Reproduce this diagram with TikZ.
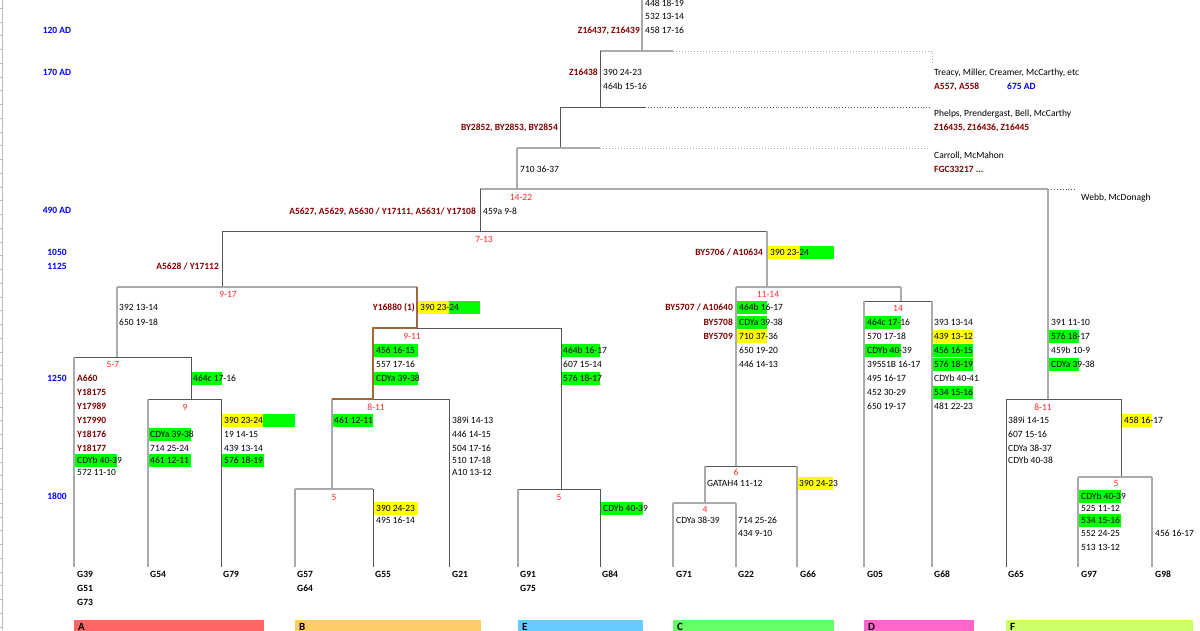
\documentclass[tikz,border=0pt]{standalone}
\usepackage{fontspec}
\setmainfont{Carlito}
\definecolor{dred}{RGB}{128,0,0}
\definecolor{lred}{RGB}{255,40,40}
\definecolor{blu}{RGB}{0,0,255}
\definecolor{hg}{RGB}{0,255,0}
\definecolor{hy}{RGB}{255,255,0}
\definecolor{lg}{RGB}{170,170,170}
\definecolor{ld}{RGB}{85,85,85}
\definecolor{brn}{RGB}{160,105,55}
\definecolor{barA}{RGB}{255,102,102}
\definecolor{barB}{RGB}{255,204,102}
\definecolor{barE}{RGB}{102,204,255}
\definecolor{barC}{RGB}{102,255,102}
\definecolor{barD}{RGB}{255,102,204}
\definecolor{barF}{RGB}{204,255,102}
\newcommand\fs{\fontsize{9.5}{11}\selectfont}
\newcounter{nn}
\newcommand\Nd[4]{\stepcounter{nn}\node[#1] (n\arabic{nn}) at (#2,#3) {#4};}
\newcommand\Hl[4]{\fill[#1] (#2,#4-6.5) rectangle (#3,#4+6.5);}
\begin{document}
\begin{tikzpicture}[x=1pt,y=-1pt,
  txt/.style={anchor=west,inner sep=0pt,text height=6pt,text depth=0pt,font=\fs},
  rtx/.style={anchor=east,inner sep=0pt,text height=6pt,text depth=0pt,font=\fs\bfseries,text=dred},
  rbt/.style={anchor=west,inner sep=0pt,text height=6pt,text depth=0pt,font=\fs\bfseries,text=dred},
  rlab/.style={anchor=center,inner sep=0pt,text height=6pt,text depth=0pt,font=\fs,text=lred},
  btx/.style={anchor=center,inner sep=0pt,text height=6pt,text depth=0pt,font=\fs\bfseries,text=blu},
  bwx/.style={anchor=west,inner sep=0pt,text height=6pt,text depth=0pt,font=\fs\bfseries,text=blu},
  leaf/.style={anchor=west,inner sep=0pt,text height=6pt,text depth=0pt,font=\fs\bfseries},
  barlet/.style={anchor=north west,inner sep=0pt,font=\fontsize{11}{12}\selectfont\bfseries},
  ln/.style={draw=lg,line width=1.1pt},
  lnd/.style={draw=ld,line width=0.9pt},
  lnb/.style={draw=brn,line width=1.2pt},
  dotg/.style={draw=lg,line width=1pt,dotted},
  dotd/.style={draw=ld,line width=0.9pt,dotted}]
\useasboundingbox (0,0) rectangle (1200,630);
\clip (0,0) rectangle (1200,630);
% left sheet edge
\coordinate (e1) at (2,0); \coordinate (e2) at (2,630);
\draw[draw=lg!80,line width=1pt] (e1) -- (e2);
\foreach \k in {0,...,45} \draw[draw=lg!80,line width=0.5pt] (0,8+13.75*\k) -- (3,8+13.75*\k);
% ---------- bar coordinates ----------
\coordinate (t0) at (642,0);
\coordinate (b1L) at (600,51);  \coordinate (b1R) at (673,51);
\coordinate (d1a) at (932,51);  \coordinate (d1b) at (932,65);
\coordinate (b2L) at (560,107); \coordinate (b2R) at (645,107); \coordinate (d2a) at (932,107);
\coordinate (b3L) at (517,148); \coordinate (b3R) at (600,148); \coordinate (d3a) at (930,148);
\coordinate (b4L) at (480,189); \coordinate (b4R) at (1048,189);
\coordinate (d4a) at (1051,189); \coordinate (d4b) at (1077,189);
\coordinate (b5L) at (222,231); \coordinate (b5R) at (767,231);
\coordinate (b6L) at (117,287); \coordinate (b6R) at (417,287);
\coordinate (b7L) at (74,357);  \coordinate (b7R) at (191,357);
\coordinate (b8L) at (148,399); \coordinate (b8R) at (221,399);
\coordinate (b9L) at (373,328); \coordinate (b9M) at (417,328); \coordinate (b9R) at (561,328);
\coordinate (b10L) at (332,399); \coordinate (b10M) at (373,399); \coordinate (b10R) at (449,399);
\coordinate (b11L) at (295,489); \coordinate (b11R) at (373,489);
\coordinate (b12L) at (518,489); \coordinate (b12R) at (600,489);
\coordinate (b13L) at (736,287); \coordinate (b13R) at (901,287);
\coordinate (b14L) at (705,466); \coordinate (b14R) at (797,466);
\coordinate (b15L) at (673,503); \coordinate (b15R) at (736,503);
\coordinate (b16L) at (864,301); \coordinate (b16R) at (932,301);
\coordinate (b17L) at (1006,399); \coordinate (b17R) at (1121,399);
\coordinate (b18L) at (1078,477); \coordinate (b18R) at (1152,477);
\coordinate (bot) at (0,567);
% ---------- highlights ----------
\Hl{hg}{75}{117}{460}
\Hl{hg}{191}{222}{378}
\Hl{hg}{148}{191}{434}
\Hl{hg}{148}{191}{460}
\Hl{hy}{222}{263}{420}\Hl{hg}{263}{295}{420}
\Hl{hg}{222}{264}{460}
\Hl{hy}{418}{449}{307}\Hl{hg}{449}{480}{307}
\Hl{hg}{374}{418}{350}
\Hl{hg}{374}{418}{378}
\Hl{hg}{332}{373}{420}
\Hl{hy}{374}{418}{508}
\Hl{hg}{561}{600}{350}
\Hl{hg}{561}{600}{378}
\Hl{hg}{601}{643}{508}
\Hl{hy}{768}{800}{252}\Hl{hg}{800}{834}{252}
\Hl{hg}{737}{767}{307}
\Hl{hg}{737}{767}{322}
\Hl{hy}{737}{767}{336}
\Hl{hy}{798}{833}{483}
\Hl{hg}{865}{901}{322}
\Hl{hg}{865}{901}{350}
\Hl{hy}{933}{973}{336}
\Hl{hg}{933}{973}{350}
\Hl{hg}{933}{973}{364}
\Hl{hg}{933}{973}{392}
\Hl{hg}{1048}{1079}{336}
\Hl{hg}{1048}{1079}{364}
\Hl{hy}{1122}{1152}{420}
\Hl{hg}{1079}{1121}{496}
\Hl{hg}{1079}{1121}{520}
% ---------- tree lines ----------
\draw[ln] (t0) -- (t0 |- b1L);
\draw[ln] (b1L) -- (b1R);
\draw[dotg] (b1R) -- (d1a) -- (d1b);
\draw[lnd] (b1L) -- (b1L |- b2L);
\draw[lnd] (b2L) -- (b2R);
\draw[dotd] (b2R) -- (d2a);
\draw[lnd] (b2L) -- (b2L |- b3L);
\draw[ln] (b3L) -- (b3R);
\draw[dotg] (b3R) -- (d3a);
\draw[ln] (b3L) -- (b3L |- b4L);
\draw[ln] (b4L) -- (b4R);
\draw[dotd] (d4a) -- (d4b);
\draw[lnd] (b4L) -- (b4L |- b5L);
\draw[lnd] (b5L) -- (b5R);
\draw[lnd] (b5L) -- (b5L |- b6L);
\draw[ln] (b6L) -- (b6R);
\draw[ln] (b6L) -- (b6L |- b7L);
\draw[lnd] (b7L) -- (b7R);
\draw[ln] (b7L) -- (b7L |- bot);
\draw[lnd] (b7R) -- (b7R |- b8L);
\draw[lnd] (b8L) -- (b8R);
\draw[ln] (b8L) -- (b8L |- bot);
\draw[lnd] (b8R) -- (b8R |- bot);
% B
\draw[lnd] (b9M) -- (b9R);
\draw[lnd] (b10M) -- (b10R);
\draw[ln] (b10L) -- (b10L |- b11L);
\draw[ln] (b11L) -- (b11R);
\draw[ln] (b11L) -- (b11L |- bot);
\draw[lnd] (b11R) -- (b11R |- bot);
\draw[lnd] (b10R) -- (b10R |- bot);
\draw[lnb] (b6R) -- (b9M);
\draw[lnb] (b9M) -- (b9L) -- (b10M) -- (b10L);
% E
\draw[lnd] (b9R) -- (b9R |- b12L);
\draw[lnd] (b12L) -- (b12R);
\draw[ln] (b12L) -- (b12L |- bot);
\draw[lnd] (b12R) -- (b12R |- bot);
% C
\draw[ln] (b5R) -- (b5R |- b13L);
\draw[ln] (b13L) -- (b13R);
\draw[ln] (b13L) -- (b13L |- b14L);
\draw[lnd] (b14L) -- (b14R);
\draw[ln] (b14L) -- (b14L |- b15L);
\draw[ln] (b15L) -- (b15R);
\draw[ln] (b15L) -- (b15L |- bot);
\draw[ln] (b15R) -- (b15R |- bot);
\draw[ln] (b14R) -- (b14R |- bot);
% D
\draw[ln] (b13R) -- (b13R |- b16L);
\draw[lnd] (b16L) -- (b16R);
\draw[ln] (b16L) -- (b16L |- bot);
\draw[ln] (b16R) -- (b16R |- bot);
% F
\draw[ln] (b4R) -- (b4R |- b17L);
\draw[lnd] (b17L) -- (b17R);
\draw[lnd] (b17L) -- (b17L |- bot);
\draw[lnd] (b17R) -- (b17R |- b18L);
\draw[ln] (b18L) -- (b18R);
\draw[ln] (b18L) -- (b18L |- bot);
\draw[ln] (b18R) -- (b18R |- bot);
% ---------- dates ----------
\Nd{btx}{57}{30}{120 AD}
\Nd{btx}{57}{72}{170 AD}
\Nd{btx}{57}{210}{490 AD}
\Nd{btx}{57}{252}{1050}
\Nd{btx}{57}{266}{1125}
\Nd{btx}{57}{378}{1250}
\Nd{btx}{57}{496}{1800}
% ---------- top ----------
\Nd{txt}{645}{3}{448 18-19}
\Nd{txt}{645}{16}{532 13-14}
\Nd{txt}{645}{30}{458 17-16}
\Nd{rtx}{640}{30}{Z16437, Z16439}
\Nd{rtx}{598}{72}{Z16438}
\Nd{txt}{603}{72}{390 24-23}
\Nd{txt}{603}{86}{464b 15-16}
\Nd{txt}{934}{72}{Treacy, Miller, Creamer, McCarthy, etc}
\Nd{rbt}{934}{86}{A557, A558}
\Nd{bwx}{1007}{86}{675 AD}
\Nd{rtx}{558}{127}{BY2852, BY2853, BY2854}
\Nd{txt}{934}{113}{Phelps, Prendergast, Bell, McCarthy}
\Nd{rbt}{934}{127}{Z16435, Z16436, Z16445}
\Nd{txt}{934}{155}{Carroll, McMahon}
\Nd{rbt}{934}{169}{FGC33217 ...}
\Nd{txt}{520}{169}{710 36-37}
\Nd{txt}{1081}{197}{Webb, McDonagh}
\Nd{rlab}{521}{197}{14-22}
\Nd{rtx}{476}{211}{A5627, A5629, A5630 / Y17111, A5631/ Y17108}
\Nd{txt}{483}{211}{459a 9-8}
\Nd{rlab}{484}{239}{7-13}
\Nd{rtx}{219}{266}{A5628 / Y17112}
\Nd{rlab}{228}{294}{9-17}
% ---------- A ----------
\Nd{txt}{119}{307}{392 13-14}
\Nd{txt}{119}{322}{650 19-18}
\Nd{rlab}{113}{364}{5-7}
\Nd{rbt}{77}{378}{A660}
\Nd{rbt}{77}{392}{Y18175}
\Nd{rbt}{77}{406}{Y17989}
\Nd{rbt}{77}{420}{Y17990}
\Nd{rbt}{77}{434}{Y18176}
\Nd{rbt}{77}{448}{Y18177}
\Nd{txt}{77}{460}{CDYb 40-39}
\Nd{txt}{77}{472}{572 11-10}
\Nd{txt}{193}{378}{464c 17-16}
\Nd{rlab}{185}{407}{9}
\Nd{txt}{150}{434}{CDYa 39-38}
\Nd{txt}{150}{448}{714 25-24}
\Nd{txt}{150}{460}{461 12-11}
\Nd{txt}{224}{420}{390 23-24}
\Nd{txt}{224}{434}{19 14-15}
\Nd{txt}{224}{448}{439 13-14}
\Nd{txt}{224}{460}{576 18-19}
\Nd{leaf}{77}{574}{G39}
\Nd{leaf}{77}{588}{G51}
\Nd{leaf}{77}{602}{G73}
\Nd{leaf}{150}{574}{G54}
\Nd{leaf}{223}{574}{G79}
% ---------- B ----------
\Nd{rtx}{415}{307}{Y16880 (1)}
\Nd{txt}{420}{307}{390 23-24}
\Nd{rlab}{412}{336}{9-11}
\Nd{txt}{376}{350}{456 16-15}
\Nd{txt}{376}{364}{557 17-16}
\Nd{txt}{376}{378}{CDYa 39-38}
\Nd{rlab}{376}{407}{8-11}
\Nd{txt}{334}{420}{461 12-11}
\Nd{txt}{452}{420}{389i 14-13}
\Nd{txt}{452}{434}{446 14-15}
\Nd{txt}{452}{448}{504 17-16}
\Nd{txt}{452}{460}{510 17-18}
\Nd{txt}{452}{472}{A10 13-12}
\Nd{rlab}{334}{497}{5}
\Nd{txt}{376}{508}{390 24-23}
\Nd{txt}{376}{520}{495 16-14}
\Nd{leaf}{297}{574}{G57}
\Nd{leaf}{297}{588}{G64}
\Nd{leaf}{375}{574}{G55}
\Nd{leaf}{452}{574}{G21}
% ---------- E ----------
\Nd{txt}{563}{350}{464b 16-17}
\Nd{txt}{563}{364}{607 15-14}
\Nd{txt}{563}{378}{576 18-17}
\Nd{rlab}{559}{497}{5}
\Nd{txt}{603}{508}{CDYb 40-39}
\Nd{leaf}{520}{574}{G91}
\Nd{leaf}{520}{588}{G75}
\Nd{leaf}{602}{574}{G84}
% ---------- C ----------
\Nd{rtx}{763}{252}{BY5706 / A10634}
\Nd{txt}{770}{252}{390 23-24}
\Nd{rlab}{768}{294}{11-14}
\Nd{rtx}{733}{307}{BY5707 / A10640}
\Nd{rtx}{733}{322}{BY5708}
\Nd{rtx}{733}{336}{BY5709}
\Nd{txt}{739}{307}{464b 16-17}
\Nd{txt}{739}{322}{CDYa 39-38}
\Nd{txt}{739}{336}{710 37-36}
\Nd{txt}{739}{350}{650 19-20}
\Nd{txt}{739}{364}{446 14-13}
\Nd{rlab}{736}{472}{6}
\Nd{txt}{707}{483}{GATAH4 11-12}
\Nd{txt}{799}{483}{390 24-23}
\Nd{rlab}{705}{509}{4}
\Nd{txt}{676}{520}{CDYa 38-39}
\Nd{txt}{738}{520}{714 25-26}
\Nd{txt}{738}{533}{434 9-10}
\Nd{leaf}{676}{574}{G71}
\Nd{leaf}{738}{574}{G22}
\Nd{leaf}{800}{574}{G66}
% ---------- D ----------
\Nd{rlab}{898}{308}{14}
\Nd{txt}{867}{322}{464c 17-16}
\Nd{txt}{867}{336}{570 17-18}
\Nd{txt}{867}{350}{CDYb 40-39}
\Nd{txt}{867}{364}{395S1B 16-17}
\Nd{txt}{867}{378}{495 16-17}
\Nd{txt}{867}{392}{452 30-29}
\Nd{txt}{867}{406}{650 19-17}
\Nd{txt}{934}{322}{393 13-14}
\Nd{txt}{934}{336}{439 13-12}
\Nd{txt}{934}{350}{456 16-15}
\Nd{txt}{934}{364}{576 18-19}
\Nd{txt}{934}{378}{CDYb 40-41}
\Nd{txt}{934}{392}{534 15-16}
\Nd{txt}{934}{406}{481 22-23}
\Nd{leaf}{867}{574}{G05}
\Nd{leaf}{934}{574}{G68}
% ---------- F ----------
\Nd{txt}{1051}{322}{391 11-10}
\Nd{txt}{1051}{336}{576 18-17}
\Nd{txt}{1051}{350}{459b 10-9}
\Nd{txt}{1051}{364}{CDYa 39-38}
\Nd{rlab}{1043}{407}{8-11}
\Nd{txt}{1008}{420}{389i 14-15}
\Nd{txt}{1008}{434}{607 15-16}
\Nd{txt}{1008}{448}{CDYa 38-37}
\Nd{txt}{1008}{460}{CDYb 40-38}
\Nd{txt}{1124}{420}{458 16-17}
\Nd{rlab}{1116}{483}{5}
\Nd{txt}{1081}{496}{CDYb 40-39}
\Nd{txt}{1081}{508}{525 11-12}
\Nd{txt}{1081}{520}{534 15-16}
\Nd{txt}{1081}{533}{552 24-25}
\Nd{txt}{1081}{547}{513 13-12}
\Nd{txt}{1155}{533}{456 16-17}
\Nd{leaf}{1008}{574}{G65}
\Nd{leaf}{1081}{574}{G97}
\Nd{leaf}{1155}{574}{G98}
% ---------- bottom bars ----------
\fill[barA] (74,620) rectangle (264,640);
\fill[barB] (295,620) rectangle (481,640);
\fill[barE] (518,620) rectangle (643,640);
\fill[barC] (673,620) rectangle (834,640);
\fill[barD] (864,620) rectangle (974,640);
\fill[barF] (1006,620) rectangle (1193,640);
\Nd{barlet}{78}{623}{A}
\Nd{barlet}{299}{623}{B}
\Nd{barlet}{522}{623}{E}
\Nd{barlet}{677}{623}{C}
\Nd{barlet}{868}{623}{D}
\Nd{barlet}{1010}{623}{F}
\end{tikzpicture}
\end{document}
